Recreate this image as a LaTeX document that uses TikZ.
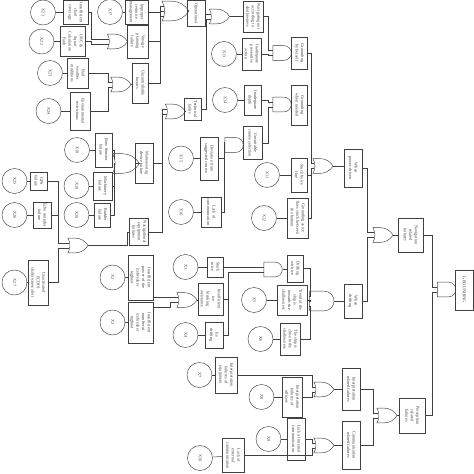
\documentclass[tikz,border=0pt]{standalone}
\usepackage{fontspec}
\setmainfont{Liberation Serif}
\usepackage{graphicx}
\usetikzlibrary{shapes.gates.logic.US}
% rotated text, first line on the right
\newcommand{\vtx}[1]{\rotatebox{-90}{\begin{tabular}{@{}c@{}}#1\end{tabular}}}
% child box -> bus -> gate input
\newcommand{\lnk}[3]{\draw (#1.east) -- (#1.east -| #2) |- (#3);}
% gate output -> box
\newcommand{\gout}[2]{\draw (#1.output) -- (#1.output -| #2.west);}
\begin{document}
\begin{tikzpicture}[x=1pt,y=-1pt,line width=0.45pt,color=black!75,
  ev/.style={draw,inner sep=1pt,font=\fontsize{4.3}{5.6}\selectfont},
  bx/.style 2 args={ev,minimum width=#1pt,minimum height=#2pt},
  be/.style={draw,circle,minimum size=25pt,inner sep=0pt,font=\fontsize{4.3}{5.6}\selectfont},
  og/.style={or gate US,draw,inner sep=0pt,minimum width=17pt,minimum height=13pt,logic gate inputs=nn},
  ag/.style={and gate US,draw,inner sep=0pt,minimum width=15pt,minimum height=14pt,logic gate inputs=nn},
  three/.style={logic gate inputs=nnn}]
\useasboundingbox (0,0) rectangle (474,474);
\clip (0,0) rectangle (474,474);

% top event
\node[bx={18}{40}] (top) at (464,290) {\vtx{GROUNDING}};
\node[ag] (g0) at (446,289.5) {};
\gout{g0}{top}
\node[bx={25}{34}] (nrf) at (410.5,235) {\vtx{Navigation\\related\\failures}};
\node[bx={26}{35}] (prf) at (412,415.5) {\vtx{Perception\\related\\failures}};
\coordinate (b0) at (432,0);
\lnk{nrf}{b0}{g0.input 1}
\lnk{prf}{b0}{g0.input 2}

% navigation related
\node[og] (g1) at (381.5,235) {};
\gout{g1}{nrf}
\node[bx={18}{38}] (pd) at (353,168) {\vtx{When\\power-driven}};
\node[bx={18}{34}] (dr) at (353,301) {\vtx{When\\drifting}};
\coordinate (b1) at (367,0);
\lnk{pd}{b1}{g1.input 1}
\lnk{dr}{b1}{g1.input 2}

% when power-driven
\node[og] (gpd) at (321.5,166) {};
\gout{gpd}{pd}
\node[bx={16}{32}] (bh) at (299.5,53) {\vtx{Grounding\\by herself}};
\node[bx={16}{40}] (wn) at (299.5,105) {\vtx{Grounding\\when needed}};
\node[bx={16}{34}] (sf) at (299,175) {\vtx{Stuck by ice\\floe}};
\node[bx={21}{40}] (gb) at (297.5,218) {\vtx{Grounding as ice\\floes stuck between\\the bottom}};
\node[be] (x11) at (267,175) {\vtx{X11}};
\node[be] (x12) at (264,218) {\vtx{X12}};
\draw (x11) -- (sf);
\draw (x12) -- (gb);
\coordinate (bpd) at (311,0);
\lnk{bh}{bpd}{gpd.input 1}
\lnk{wn}{bpd}{gpd.input 1}
\lnk{sf}{bpd}{gpd.input 2}
\lnk{gb}{bpd}{gpd.input 2}

% grounding by herself
\node[ag] (gbh) at (281.5,53) {};
\gout{gbh}{bh}
\node[bx={20}{31}] (nn) at (253,16.5) {\vtx{Navigating not\\according to\\shallowness}};
\node[bx={18}{32}] (ip) at (251.5,54) {\vtx{Inadequate\\preventive\\action}};
\node[be] (x13) at (224,54) {\vtx{X13}};
\draw (x13) -- (ip);
\coordinate (bbh) at (268,0);
\lnk{nn}{bbh}{gbh.input 1}
\lnk{ip}{bbh}{gbh.input 2}

% grounding when needed
\node[ag] (gwn) at (281.5,104.5) {};
\gout{gwn}{wn}
\node[bx={17}{30}] (id) at (252.5,100) {\vtx{Inadequate\\depth}};
\node[be] (x14) at (225,100) {\vtx{X14}};
\draw (x14) -- (id);
\node[bx={19}{33}] (uc) at (252.5,143) {\vtx{Unsuitable\\course selection}};
\lnk{id}{bbh}{gwn.input 1}
\lnk{uc}{bbh}{gwn.input 2}

% unsuitable course selection
\node[ag] (guc) at (233.5,145) {};
\gout{guc}{uc}
\node[bx={18}{43}] (dv) at (209,158.5) {\vtx{Deviation from\\suggested course}};
\node[bx={20}{30}] (lc) at (211,212) {\vtx{Lack of\\communication}};
\node[be] (x15) at (181,158.5) {\vtx{X15}};
\node[be] (x16) at (181,212) {\vtx{X16}};
\draw (x15) -- (dv);
\draw (x16) -- (lc);
\coordinate (buc) at (224,0);
\lnk{dv}{buc}{guc.input 1}
\lnk{lc}{buc}{guc.input 2}

% when drifting
\node[ag,three] (gdr) at (321,301) {};
\gout{gdr}{dr}
\node[bx={16}{27}] (di) at (295,268.5) {\vtx{Drifting\\with ice}};
\node[bx={30}{30}] (tr) at (292,300) {\vtx{Trend of the\\ship is\\towards the\\shallowness}};
\node[bx={20}{32}] (cl) at (290,339) {\vtx{The ship is\\close to the\\shallowness}};
\node[be] (x5) at (254,300) {\vtx{X5}};
\node[be] (x6) at (260.5,339) {\vtx{X6}};
\draw (x5) -- (tr);
\draw (x6) -- (cl);
\coordinate (bdr) at (310,0);
\lnk{di}{bdr}{gdr.input 1}
\lnk{tr}{bdr}{gdr.input 2}
\lnk{cl}{bdr}{gdr.input 3}

% drifting with ice
\node[ag] (gdi) at (272.5,269.5) {};
\gout{gdi}{di}
\node[bx={16}{20}] (si) at (215,267) {\vtx{Stuck\\in ice}};
\node[bx={25}{32}] (ib) at (210.5,299) {\vtx{Insufficient\\ice\\breaking\\assistance}};
\node[bx={18}{26}] (idr) at (214,335) {\vtx{Ice\\drifting}};
\node[be] (x1) at (185.5,267) {\vtx{X1}};
\node[be] (x4) at (185.5,335) {\vtx{X4}};
\draw (x1) -- (si);
\draw (x4) -- (idr);
\draw (si.east |- gdi.input 1) -- (gdi.input 1);
\coordinate (bdi) at (228,0);
\lnk{ib}{bdi}{gdi.input 2}
\lnk{idr}{bdi}{gdi.input 2}

% ice breaking assistance
\node[og] (gib) at (185.5,300) {};
\gout{gib}{ib}
\node[bx={25}{45}] (pw) at (140.5,277.5) {\vtx{Insufficient\\power of the\\icebreaker\\tugboat}};
\node[bx={25}{41}] (nb) at (140.5,322.5) {\vtx{Insufficient\\number of\\icebreaker\\tugboat}};
\node[be] (x2) at (112.5,277.5) {\vtx{X2}};
\node[be] (x3) at (112.5,322.5) {\vtx{X3}};
\draw (x2) -- (pw);
\draw (x3) -- (nb);
\draw (pw.east |- gib.input 1) -- (gib.input 1);
\draw ([yshift=15pt]nb.east) -- ++(17,0) |- (gib.input 2);

% technical faults
\node[bx={17}{22}] (tf) at (192.5,109) {\vtx{Technical\\faults}};
\node[og] (gtf) at (174,111.5) {};
\gout{gtf}{tf}
\node[bx={18}{40}] (md) at (144,163) {\vtx{Maneuvering\\device failure}};
\node[bx={19}{27}] (ne) at (139,232) {\vtx{Navigational\\equipment\\failures}};
\coordinate (btf) at (162,0);
\lnk{md}{btf}{gtf.input 1}
\lnk{ne}{btf}{gtf.input 2}

% maneuvering device
\node[og,three] (gmd) at (124,163.5) {};
\gout{gmd}{md}
\node[bx={17}{34}] (bt) at (103.5,150) {\vtx{Bow thruster\\failure}};
\node[bx={19}{28}] (mf) at (102.5,186) {\vtx{Machinery\\failure}};
\node[bx={16}{24}] (rf) at (102.5,215) {\vtx{Rudder\\failure}};
\node[be] (x18) at (77,150) {\vtx{X18}};
\node[be] (x19) at (76.5,186) {\vtx{X19}};
\node[be] (x20) at (76.5,215) {\vtx{X20}};
\draw (x18) -- (bt);
\draw (x19) -- (mf);
\draw (x20) -- (rf);
\coordinate (bmd) at (114,0);
\lnk{bt}{bmd}{gmd.input 1}
\lnk{mf}{bmd}{gmd.input 2}
\lnk{rf}{bmd}{gmd.input 3}

% navigational equipment
\node[og] (gne) at (76.5,245.5) {};
\coordinate (kne) at (127,0);
\draw (gne.output) -- (gne.output -| kne) |- (ne.west);
\node[bx={17}{18}] (gps) at (38.5,181) {\vtx{GPS\\failure}};
\node[bx={18}{26}] (es) at (42,215) {\vtx{Echo sounder\\failure}};
\node[bx={20}{45}] (ua) at (38,282.5) {\vtx{Unactivated\\ECDIS\\shallowness alert}};
\node[be] (x25) at (14.5,181) {\vtx{X25}};
\node[be] (x26) at (14.5,215) {\vtx{X26}};
\node[be] (x27) at (14.5,282.5) {\vtx{X27}};
\draw (x25) -- (gps);
\draw (x26) -- (es);
\draw (x27) -- (ua);
\coordinate (bne) at (58,0);
\lnk{gps}{bne}{gne.input 1}
\lnk{es}{bne}{gne.input 1}
\lnk{ua}{bne}{gne.input 2}

% operational
\node[bx={18}{26}] (op) at (196,13.5) {\vtx{Operational}};
\node[og,three] (gop) at (173.5,11) {};
\gout{gop}{op}
\node[bx={23}{23}] (x17b) at (136.5,12) {\vtx{Improper\\resource\\management}};
\node[bx={21}{33}] (vp) at (137.5,41.5) {\vtx{Voyage\\planning\\failure}};
\node[bx={16}{40}] (uf) at (140,83) {\vtx{Uncontrollable\\factors}};
\node[be] (x17) at (110,12) {\vtx{X17}};
\draw (x17) -- (x17b);
\coordinate (bop) at (160,0);
\lnk{x17b}{bop}{gop.input 1}
\lnk{vp}{bop}{gop.input 2}
\lnk{uf}{bop}{gop.input 3}

% voyage planning
\node[og] (gvp) at (116,41.5) {};
\gout{gvp}{vp}
\node[bx={25}{24}] (x21b) at (75.5,12.5) {\vtx{Insufficient\\chart\\coverage}};
\node[bx={25}{30}] (ukc) at (72.5,41.5) {\vtx{UKC \&\\Squat\\Calculation\\Fault}};
\node[be] (x21) at (43,12.5) {\vtx{X21}};
\node[be] (x22) at (41.5,41.5) {\vtx{X22}};
\draw (x21) -- (x21b);
\draw (x22) -- (ukc);
\coordinate (bvp) at (91,0);
\lnk{x21b}{bvp}{gvp.input 1}
\lnk{ukc}{bvp}{gvp.input 2}

% uncontrollable factors
\node[og] (guf) at (119.5,84.5) {};
\gout{guf}{uf}
\node[bx={21}{30}] (bw) at (77.5,73) {\vtx{Bad\\weather\\conditions}};
\node[bx={20}{38}] (er) at (80,111) {\vtx{Environmental\\restrictions}};
\node[be] (x23) at (50,73) {\vtx{X23}};
\node[be] (x24) at (48.5,111) {\vtx{X24}};
\draw (x23) -- (bw);
\draw (x24) -- (er);
\coordinate (buf) at (108,0);
\lnk{bw}{buf}{guf.input 1}
\lnk{er}{buf}{guf.input 2}

% not according to shallowness
\node[og] (gnn) at (218,16.5) {};
\gout{gnn}{nn}
\draw (op.east |- gnn.input 1) -- (gnn.input 1);
\coordinate (bnn) at (206,0);
\lnk{tf}{bnn}{gnn.input 2}

% perception related
\node[og] (gpr) at (385.5,415.5) {};
\gout{gpr}{prf}
\node[bx={18}{42}] (irf) at (351,389) {\vtx{Interpretation\\related failures}};
\node[bx={18}{48}] (crf) at (351,445) {\vtx{Communication\\related failures}};
\coordinate (bpr) at (373,0);
\lnk{irf}{bpr}{gpr.input 1}
\lnk{crf}{bpr}{gpr.input 2}
\node[og] (gir) at (322.5,389.5) {};
\gout{gir}{irf}
\node[og] (gcr) at (322.5,445.5) {};
\gout{gcr}{crf}
\node[bx={22}{36}] (ife) at (226,375) {\vtx{Interpretation\\failures of\\equipment}};
\node[bx={20}{40}] (ifo) at (292,397) {\vtx{Interpretation\\failures of\\officers}};
\node[bx={18}{42}] (lic) at (296,439) {\vtx{Lack of internal\\communication}};
\node[bx={22}{34}] (lec) at (233,455.5) {\vtx{Lack of\\external\\communication}};
\node[be] (x7) at (199.5,375) {\vtx{X7}};
\node[be] (x8) at (261.5,397) {\vtx{X8}};
\node[be] (x9) at (268.5,439) {\vtx{X9}};
\node[be] (x10) at (200,458) {\vtx{X10}};
\draw (x7) -- (ife);
\draw (x8) -- (ifo);
\draw (x9) -- (lic);
\draw (x10) -- (lec);
\coordinate (bir) at (312,0);
\lnk{ife}{bir}{gir.input 1}
\lnk{ifo}{bir}{gir.input 2}
\lnk{lic}{bir}{gcr.input 1}
\lnk{lec}{bir}{gcr.input 2}
\end{tikzpicture}
\end{document}
